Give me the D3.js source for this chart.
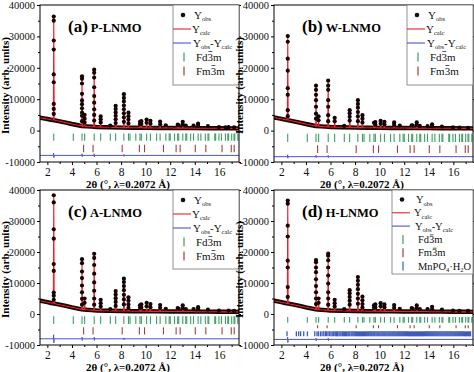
<!DOCTYPE html>
<html>
<head>
<meta charset="utf-8">
<script src="https://cdn.jsdelivr.net/npm/d3@7"></script>
<style>
  body { margin: 0; background: #fff; }
  svg text { font-family: "Liberation Serif", "Times New Roman", serif; }
</style>
</head>
<body>
<svg id="chart" width="474" height="372"></svg>
<script>
// ---------- data ----------

// background sampling positions (2theta, deg) shared by the four patterns
const bgTheta = [1.4, 1.7, 2.0, 2.3, 2.7, 3.0, 3.5, 4.0, 4.5, 4.8, 5.2, 5.6, 6.0, 7.0, 8.0, 9.0, 10, 11, 12, 13, 14, 15, 16, 17, 17.6];

// background level of Y_obs (the thick dotted band)
const bgA = [4100, 3900, 3700, 3450, 3200, 2950, 2550, 2100, 1700, 1450, 1350, 1250, 1150, 1050, 950, 900, 870, 850, 820, 800, 780, 760, 740, 720, 700];
const bgB = [4200, 3950, 3750, 3500, 3200, 2950, 2550, 2100, 1700, 1450, 1350, 1250, 1150, 1050, 950, 900, 870, 850, 820, 800, 780, 760, 740, 720, 700];
const bgC = [4300, 4050, 3800, 3550, 3250, 3000, 2600, 2150, 1750, 1500, 1350, 1250, 1150, 1050, 950, 900, 870, 850, 820, 800, 780, 760, 740, 720, 700];
const bgD = [4300, 4050, 3800, 3550, 3250, 3000, 2600, 2150, 1750, 1500, 1350, 1250, 1150, 1050, 950, 900, 870, 850, 820, 800, 780, 760, 740, 720, 700];

// peaks: [2theta, base level, dots seen along the peak (top first)]
const peaksA = [
  [2.52, 3400, [36300, 35000, 28700, 25800, 17900, 15400, 8500, 6900, 5300]],
  [4.82, 1500, [17300, 16500, 15000, 11700, 9600, 8400, 7100, 5700, 4700, 3000]],
  [5.03, 1400, [5000, 3800, 2600]],
  [5.81, 1200, [19400, 18400, 16900, 13800, 11000, 8900, 6800, 5000, 3200]],
  [6.34, 1100, [4500, 3600, 2600]],
  [7.12, 1000, [1600]],
  [7.56, 1000, [7900, 6900, 5800, 4700, 3600, 2400]],
  [8.23, 950, [11600, 10400, 9300, 8000, 6800, 5500, 4200, 2800]],
  [8.60, 950, [5700, 4600, 3500, 2300]],
  [9.54, 900, [2800, 2000]],
  [9.65, 900, [3000, 2100]],
  [10.08, 900, [3500, 2500]],
  [10.39, 850, [3100, 2200]],
  [11.18, 850, [2900, 2000]],
  [11.64, 850, [1700]],
  [12.61, 800, [1900]],
  [12.69, 800, [1700]],
  [13.02, 800, [2800, 1900]],
  [13.27, 800, [1600]],
  [13.90, 800, [1600]],
  [14.27, 750, [2200, 1500]],
  [15.07, 750, [1400]],
  [15.97, 750, [1100]],
  [16.50, 700, [1000]],
  [16.75, 700, [1100]],
  [17.20, 700, [1000]]
];
const peaksB = [
  [2.52, 3400, [30100, 28300, 22900, 19100, 13500, 11400, 6500, 4600]],
  [4.82, 1500, [14300, 13000, 11400, 9700, 7600, 5400, 3800]],
  [5.03, 1400, [4500, 3300]],
  [5.81, 1200, [15900, 14300, 13000, 9700, 7600, 4900, 3000]],
  [6.34, 1100, [4100, 3000]],
  [7.12, 1000, [1500]],
  [7.56, 1000, [6500, 5500, 4400, 3200]],
  [8.23, 950, [9700, 8500, 7300, 5900, 4500, 3000]],
  [8.60, 950, [4900, 3800, 2600]],
  [9.54, 900, [2500]],
  [9.65, 900, [2700, 1900]],
  [10.08, 900, [3100, 2200]],
  [10.39, 850, [2800, 2000]],
  [11.18, 850, [2600, 1800]],
  [11.64, 850, [1600]],
  [12.61, 800, [1700]],
  [12.69, 800, [1600]],
  [13.02, 800, [2600, 1800]],
  [13.27, 800, [1500]],
  [13.90, 800, [1400]],
  [14.27, 750, [2000, 1400]],
  [15.07, 750, [1300]],
  [15.97, 750, [1000]],
  [16.50, 700, [950]],
  [17.20, 700, [900]]
];
const peaksC = [
  [2.52, 3500, [38300, 36000, 27300, 24300, 16100, 13900, 6900, 5900, 4600]],
  [4.82, 1500, [17700, 16400, 13700, 11600, 9200, 7000, 4900, 3000]],
  [5.03, 1400, [5000, 3600]],
  [5.81, 1200, [19400, 18100, 15800, 13000, 10200, 7500, 5000, 3000]],
  [6.34, 1100, [4600, 3500, 2400]],
  [7.12, 1000, [1600]],
  [7.56, 1000, [7400, 6300, 5100, 3900, 2600]],
  [8.23, 950, [11400, 10300, 9000, 7700, 6200, 4700, 3100]],
  [8.60, 950, [5400, 4300, 3100, 2000]],
  [9.54, 900, [2800, 2000]],
  [9.65, 900, [3100, 2100]],
  [10.08, 900, [3600, 2500]],
  [10.39, 850, [3200, 2200]],
  [11.18, 850, [2900, 2000]],
  [11.64, 850, [1700]],
  [12.61, 800, [1900]],
  [12.69, 800, [1700]],
  [13.02, 800, [2800, 1900]],
  [13.27, 800, [1600]],
  [13.90, 800, [1600]],
  [14.27, 750, [2200, 1500]],
  [15.07, 750, [1400]],
  [15.97, 750, [1100]],
  [16.75, 700, [1100]],
  [17.20, 700, [1000]]
];
const peaksD = [
  [2.52, 3400, [36600, 35600, 28500, 25000, 17200, 15000, 8700, 5500]],
  [4.82, 1500, [17400, 16700, 15000, 13500, 11200, 9000, 7000, 5000, 3200]],
  [5.03, 1400, [5000, 3600]],
  [5.81, 1200, [19500, 18800, 17300, 15000, 12400, 9800, 7000, 5000, 3000]],
  [6.34, 1100, [4600, 3500, 2400]],
  [7.12, 1000, [1600]],
  [7.56, 1000, [7700, 6700, 5500, 4300, 3000]],
  [8.23, 950, [11900, 10700, 9400, 8000, 6500, 5000, 3300]],
  [8.60, 950, [5600, 4400, 3200, 2100]],
  [9.54, 900, [2800, 2000]],
  [9.65, 900, [3100, 2100]],
  [10.08, 900, [3500, 2500]],
  [10.39, 850, [3100, 2200]],
  [11.18, 850, [2900, 2000]],
  [11.64, 850, [1700]],
  [12.61, 800, [1900]],
  [12.69, 800, [1700]],
  [13.02, 800, [2800, 1900]],
  [13.27, 800, [1600]],
  [13.90, 800, [1600]],
  [14.27, 750, [2300, 1500]],
  [15.07, 750, [1400]],
  [15.97, 750, [1100]],
  [16.50, 700, [1000]],
  [17.20, 700, [1000]]
];

// Y_obs - Y_calc difference curves [2theta, counts]
const diffA = [[1.4,-7900],[2.49,-7900],[2.51,-7200],[2.53,-8600],[2.55,-7900],[4.80,-7900],[4.82,-7400],[4.84,-8300],[4.86,-7900],[5.79,-7900],[5.81,-7400],[5.83,-8300],[5.85,-7900],[8.21,-7900],[8.23,-7600],[8.25,-8200],[8.27,-7900],[17.6,-7900]];
const diffB = [[1.4,-8300],[2.49,-8300],[2.51,-7700],[2.53,-8800],[2.55,-8300],[4.80,-8300],[4.82,-7900],[4.84,-8600],[4.86,-8300],[5.79,-8300],[5.81,-7900],[5.83,-8600],[5.85,-8300],[17.6,-8300]];
const diffC = [[1.4,-8000],[2.49,-8000],[2.51,-6700],[2.53,-9300],[2.55,-8000],[4.80,-8000],[4.82,-7500],[4.84,-8500],[4.86,-8000],[5.79,-8000],[5.81,-7500],[5.83,-8500],[5.85,-8000],[8.21,-8000],[8.23,-7700],[8.25,-8300],[8.27,-8000],[17.6,-8000]];
const diffD = [[1.4,-8200],[2.49,-8200],[2.51,-7500],[2.53,-9200],[2.55,-8200],[4.80,-8200],[4.82,-7800],[4.84,-8600],[4.86,-8200],[5.79,-8200],[5.81,-7800],[5.83,-8600],[5.85,-8200],[17.6,-8200]];

// Bragg reflection positions (2theta, deg)
const fd3mPos = [2.517, 4.111, 4.821, 5.035, 5.814, 6.337, 7.123, 7.556, 8.227, 8.605, 8.727, 9.200, 9.539, 9.650, 10.080, 10.390, 10.890, 11.179, 11.644, 11.915, 12.003, 12.354, 12.609, 12.693, 13.024, 13.267, 13.347, 13.663, 13.895, 14.273, 14.496, 14.859, 15.073, 15.144, 15.630, 15.698, 15.968, 16.168, 16.495, 16.689, 16.753, 17.006, 17.195, 17.257, 17.503];
const fm3mPos = [4.95, 5.72, 8.09, 9.49, 9.91, 11.45, 12.48, 12.81, 14.04, 14.90, 16.22, 16.97, 17.21];
const mnpo4Pos = [2.46, 3.22, 3.41, 3.57, 3.82, 4.12, 4.72, 4.90, 5.02, 5.18, 5.31, 5.45, 5.58, 5.66, 5.79, 5.90, 6.03, 6.14, 6.25, 6.36, 6.43,
  6.50, 6.58, 6.69, 6.77, 6.86, 6.97, 7.04, 7.13, 7.22, 7.30, 7.41, 7.49, 7.57, 7.68, 7.76, 7.84, 7.93, 8.02, 8.10, 8.19, 8.27, 8.36, 8.44, 8.53,
  8.61, 8.70, 8.78, 8.86, 8.95, 9.03, 9.11, 9.20, 9.28, 9.36, 9.45, 9.53, 9.61, 9.70, 9.78, 9.86, 9.94, 10.02, 10.11, 10.19, 10.27, 10.35,
  10.43, 10.51, 10.60, 10.68, 10.76, 10.84, 10.92, 11.00, 11.08, 11.16, 11.24, 11.32, 11.40, 11.48, 11.56, 11.64, 11.72, 11.80, 11.88, 11.96,
  12.04, 12.12, 12.20, 12.28, 12.36, 12.44, 12.52, 12.60, 12.68, 12.76, 12.84, 12.92, 13.00, 13.08, 13.16, 13.24, 13.32, 13.40, 13.48, 13.56,
  13.64, 13.72, 13.80, 13.88, 13.96, 14.04, 14.12, 14.20, 14.28, 14.36, 14.44, 14.52, 14.60, 14.68, 14.76, 14.84, 14.92, 15.00, 15.08, 15.16,
  15.24, 15.32, 15.40, 15.48, 15.56, 15.64, 15.72, 15.80, 15.88, 15.96, 16.04, 16.12, 16.20, 16.28, 16.36, 16.44, 16.52, 16.60, 16.68, 16.76,
  16.84, 16.92, 17.00, 17.08, 17.16, 17.24, 17.32, 17.40];

const xTicks = [2, 4, 6, 8, 10, 12, 14, 16];
const yTicks = [-10000, 0, 10000, 20000, 30000, 40000];

// ---------- layout ----------
const svg = d3.select("#chart");
const panelW = 199;
const xDomain = [1.4, 17.6];
const yDomain = [-10000, 40000];

const colRed = "#e8222a", colGreen = "#3a9e62", colMaroon = "#a0403c", colBlue = "#3d5cb8", colDiff = "#4a55cc";

const panels = [
  {key: "a", name: "P-LNMO", left: 40, top: 5, h: 157, bg: bgA, peaks: peaksA, diff: diffA, mnpo4: false,
   fdY: [-900, -3200], fmY: [-4500, -6900]},
  {key: "b", name: "W-LNMO", left: 274, top: 5, h: 157, bg: bgB, peaks: peaksB, diff: diffB, mnpo4: false,
   fdY: [-1000, -3600], fmY: [-4700, -7100]},
  {key: "c", name: "A-LNMO", left: 40, top: 190, h: 155, bg: bgC, peaks: peaksC, diff: diffC, mnpo4: false,
   fdY: [-700, -3200], fmY: [-4300, -6600]},
  {key: "d", name: "H-LNMO", left: 274, top: 190, h: 155, bg: bgD, peaks: peaksD, diff: diffD, mnpo4: true,
   fdY: [-1000, -2800], fmY: [-3600, -4600], mnY: [-5600, -7200]}
];

panels.forEach(drawPanel);

function drawPanel(p) {
  const x = d3.scaleLinear().domain(xDomain).range([p.left, p.left + panelW]);
  const y = d3.scaleLinear().domain(yDomain).range([p.top + p.h, p.top]);
  const g = svg.append("g");

  const clipId = "clip-" + p.key;
  svg.append("clipPath").attr("id", clipId)
    .append("rect").attr("x", p.left).attr("y", p.top).attr("width", panelW).attr("height", p.h);
  const plot = g.append("g").attr("clip-path", `url(#${clipId})`);

  // background points of Y_obs (dense dots -> thick band)
  const bgPts = p.bg.map((v, i) => [bgTheta[i], v]);
  const line = d3.line().x(d => x(d[0])).y(d => y(d[1]));
  plot.append("path").attr("d", line(bgPts))
    .attr("fill", "none").attr("stroke", "#140404").attr("stroke-width", 4.4)
    .attr("stroke-linejoin", "round").attr("stroke-linecap", "round");

  // Y_calc line
  const calc = bgPts.concat(p.peaks.flatMap(pk => [[pk[0] - 0.035, pk[1]], [pk[0], pk[2][0]], [pk[0] + 0.035, pk[1]]]))
    .sort((a, b) => a[0] - b[0]);
  plot.append("path").attr("d", line(calc))
    .attr("fill", "none").attr("stroke", colRed).attr("stroke-width", 1.1);

  // Y_obs dots on the peaks
  const dots = p.peaks.flatMap(pk => pk[2].map(v => [pk[0], v]));
  plot.selectAll(".obs").data(dots).enter().append("circle")
    .attr("cx", d => x(d[0])).attr("cy", d => y(d[1])).attr("r", 2.1)
    .attr("fill", "#140404");

  // difference curve
  plot.append("path").attr("d", line(p.diff))
    .attr("fill", "none").attr("stroke", colDiff).attr("stroke-width", 1);

  // reflection ticks
  const tickSet = (pos, yy, col, w) => {
    plot.append("g").selectAll("line").data(pos).enter().append("line")
      .attr("x1", d => x(d)).attr("x2", d => x(d))
      .attr("y1", y(yy[0])).attr("y2", y(yy[1]))
      .attr("stroke", col).attr("stroke-width", w);
  };
  tickSet(fd3mPos, p.fdY, colGreen, 1.1);
  tickSet(fm3mPos, p.fmY, colMaroon, 1.1);
  if (p.mnpo4) tickSet(mnpo4Pos, p.mnY, colBlue, 1.3);

  // frame
  g.append("rect").attr("x", p.left).attr("y", p.top).attr("width", panelW).attr("height", p.h)
    .attr("fill", "none").attr("stroke", "#000").attr("stroke-width", 1);

  // axes
  const yAx = g.append("g").attr("transform", `translate(${p.left},0)`)
    .call(d3.axisLeft(y).tickValues(yTicks).tickFormat(d => String(d)).tickSize(3).tickPadding(2));
  yAx.select(".domain").remove();
  yAx.selectAll("text").attr("font-size", 10.5).attr("fill", "#111");
  g.append("g").attr("transform", `translate(${p.left},0)`)
    .call(d3.axisLeft(y).tickValues([-5000, 5000, 15000, 25000, 35000]).tickFormat("").tickSize(2))
    .select(".domain").remove();
  g.append("g").attr("transform", `translate(${p.left + panelW},0)`)
    .call(d3.axisRight(y).tickValues(yTicks).tickFormat("").tickSize(2))
    .select(".domain").remove();

  const xAx = g.append("g").attr("transform", `translate(0,${p.top + p.h})`)
    .call(d3.axisBottom(x).tickValues(xTicks).tickSize(3).tickPadding(3));
  xAx.select(".domain").remove();
  xAx.selectAll("text").attr("font-size", 11.5).attr("fill", "#111");
  g.append("g").attr("transform", `translate(0,${p.top + p.h})`)
    .call(d3.axisBottom(x).tickValues([3, 5, 7, 9, 11, 13, 15, 17]).tickFormat("").tickSize(2))
    .select(".domain").remove();

  // axis titles
  g.append("text").attr("x", p.left + 88).attr("y", p.top + p.h + 25.5)
    .attr("text-anchor", "middle").attr("font-size", 11).attr("font-weight", "bold")
    .text("2θ (°, λ=0.2072 Å)");
  g.append("text")
    .attr("transform", `translate(${p.left - 31},${p.top + p.h / 2 + 2}) rotate(-90)`)
    .attr("text-anchor", "middle").attr("font-size", 11).attr("font-weight", "bold")
    .text("Intensity (arb. units)");

  // panel label
  const lab = g.append("text").attr("x", p.left + 28).attr("y", p.top + 27).attr("font-weight", "bold");
  lab.append("tspan").attr("font-size", 17).text(`(${p.key})`);
  lab.append("tspan").attr("font-size", 12.5).attr("dx", 3).text(p.name);

  drawLegend(g, p);
}

function drawLegend(g, p) {
  const wide = p.mnpo4;
  const lx = p.left + (wide ? 118 : 133);
  const ly = p.top;
  const bw = p.left + panelW - lx;
  const bh = wide ? 84 : (p.key === "c" ? 79 : 80);
  const rowH = wide ? 13.3 : 14;
  const r0 = wide ? 9.5 : 10;
  const symX = lx + 10;
  const txtX = lx + (wide ? 24 : 21);
  const fs = wide ? 10.5 : 11;

  g.append("rect").attr("x", lx).attr("y", ly).attr("width", bw).attr("height", bh)
    .attr("fill", "#fff").attr("stroke", "#777").attr("stroke-width", 0.8);

  const rowY = i => ly + r0 + i * rowH;
  const label = (i, parts, dx) => {
    const t = g.append("text").attr("x", txtX + (dx || 0)).attr("y", rowY(i) + 3.5).attr("font-size", fs).attr("fill", "#111");
    parts.forEach(pt => {
      const s = t.append("tspan").text(pt[0]);
      if (pt[1] === "sub") s.attr("font-size", 6.5).attr("dy", 2.5);
      if (pt[1] === "up") s.attr("dy", -2.5);
    });
    return t;
  };

  // Y_obs
  g.append("circle").attr("cx", symX).attr("cy", rowY(0)).attr("r", 2.3).attr("fill", "#111");
  label(0, [["Y"], ["obs", "sub"]]);
  // Y_calc
  g.append("line").attr("x1", lx).attr("x2", lx + 18).attr("y1", rowY(1)).attr("y2", rowY(1))
    .attr("stroke", colRed).attr("stroke-width", 1.1);
  label(1, [["Y"], ["calc", "sub"]], -2);
  // Y_obs - Y_calc
  g.append("line").attr("x1", lx).attr("x2", lx + 18).attr("y1", rowY(2)).attr("y2", rowY(2))
    .attr("stroke", colDiff).attr("stroke-width", 1.1);
  label(2, [["Y"], ["obs", "sub"], ["-Y", "up"], ["calc", "sub"]], -1);
  // phases
  const phaseRow = (i, col, parts, bar) => {
    g.append("line").attr("x1", symX + 1).attr("x2", symX + 1).attr("y1", rowY(i) - 4.5).attr("y2", rowY(i) + 4.5)
      .attr("stroke", col).attr("stroke-width", 1.2);
    const t = label(i, parts, 2);
    if (bar) {
      // overline on the "3" of the space group symbol
      const b = t.node().getExtentOfChar(2);
      g.append("line").attr("x1", b.x + 0.8).attr("x2", b.x + b.width - 0.8)
        .attr("y1", b.y + 1).attr("y2", b.y + 1).attr("stroke", "#111").attr("stroke-width", 0.7);
    }
  };
  phaseRow(3, colGreen, [["Fd3m"]], true);
  phaseRow(4, colMaroon, [["Fm3m"]], true);
  if (wide) phaseRow(5, colBlue, [["MnPO"], ["4", "sub"], ["·H", "up"], ["2", "sub"], ["O", "up"]], false);
}
</script>
</body>
</html>
